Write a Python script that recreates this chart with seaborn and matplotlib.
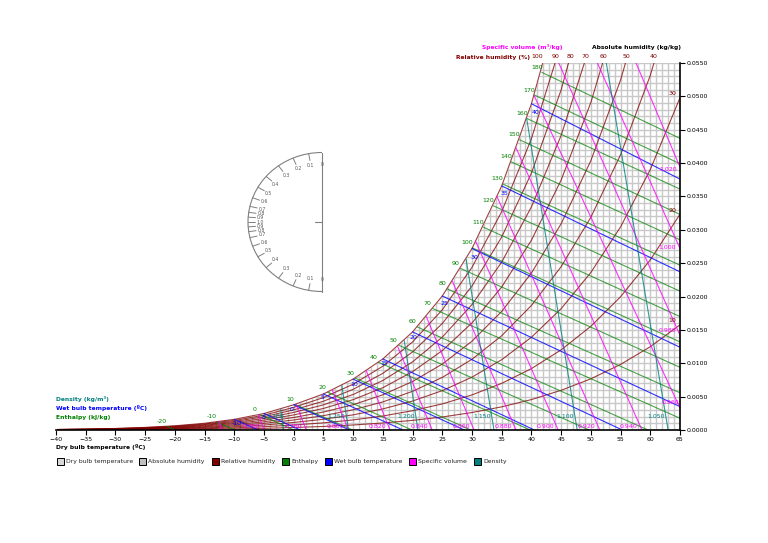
import matplotlib
matplotlib.use("Agg")
import matplotlib.pyplot as plt
from matplotlib.patches import Arc, Rectangle
import numpy as np
import pandas as pd
import seaborn as sns

n = np.nan

# dry bulb nodes for the relative humidity curves
dbt_nodes = [-40, -35, -30, -25, -20, -15, -10, -5, 0, 5, 10, 15, 20, 25, 30, 35, 40, 45, 50, 55, 60, 65]
rh_100 = [.00008, .00014, .00023, .00039, .00063, .00101, .0016, .00247, .00378, .0054, .00763, .01065, .0147, .02008, .0272, .03658, .04889, .06505, n, n, n, n]
rh_90 = [.00007, .00013, .00021, .00035, .00057, .00091, .00144, .00222, .00339, .00486, .00686, .00956, .0132, .01801, .02438, .03273, .04366, .05794, n, n, n, n]
rh_80 = [.00006, .00011, .00018, .00031, .0005, .00081, .00128, .00198, .00302, .00431, .00609, .00849, .0117, .01596, .02158, .02892, .03851, .05097, .0672, n, n, n]
rh_70 = [.00006, .0001, .00016, .00027, .00044, .00071, .00112, .00173, .00264, .00377, .00532, .00742, .01021, .01392, .0188, .02517, .03344, .04415, .05802, n, n, n]
rh_60 = [.00005, .00008, .00014, .00023, .00038, .00061, .00096, .00148, .00226, .00323, .00455, .00634, .00874, .0119, .01605, .02144, .02844, .03746, .04908, .06403, n, n]
rh_50 = [.00004, .00007, .00012, .00019, .00031, .0005, .0008, .00123, .00188, .00269, .00379, .00528, .00727, .00988, .01331, .01777, .02352, .03091, .04037, .05245, .06788, n]
rh_40 = [.00003, .00006, .00009, .00016, .00025, .0004, .00064, .00099, .0015, .00215, .00303, .00421, .0058, .00788, .0106, .01413, .01867, .02448, .03188, .04126, .05314, .06823]
rh_30 = [.00002, .00004, .00007, .00012, .00019, .0003, .00048, .00074, .00113, .00161, .00227, .00316, .00434, .0059, .00792, .01054, .0139, .01818, .02361, .03044, .03903, .0498]
rh_20 = [.00002, .00003, .00005, .00008, .00013, .0002, .00032, .00049, .00075, .00107, .00151, .0021, .00289, .00391, .00526, .00699, .0092, .01201, .01554, .01997, .02549, .03234]
rh_10 = [.00001, .00001, .00002, .00004, .00006, .0001, .00016, .00025, .00038, .00053, .00075, .00105, .00144, .00195, .00262, .00347, .00456, .00595, .00767, .00983, .01248, .01576]
rh_curves = [rh_100, rh_90, rh_80, rh_70, rh_60, rh_50, rh_40, rh_30, rh_20, rh_10]

rh_top_labels = ["100", "90", "80", "70", "60", "50", "40"]
rh_top_t = [41, 44.1, 46.5, 49, 52.2, 56, 60.6]
rh_side_labels = ["30", "20", "10"]
rh_side_w = [.0498, .03234, .01576]

enthalpy = [-20, -10, 0, 10, 20, 30, 40, 50, 60, 70, 80, 90, 100, 110, 120, 130, 140, 150, 160, 170, 180]
enthalpy_t0 = [-21.3, -13, -5.7, .2, 5.7, 10.35, 14.25, 17.7, 20.8, 23.4, 25.8, 28.1, 30.05, 31.9, 33.6, 35.1, 36.55, 38, 39.2, 40.5, 41.75]
enthalpy_w0 = [.00055, .00122, .0023, .00384, .00567, .00778, .01015, .0127, .01545, .0182, .02115, .0242, .0273, .0304, .0336, .0369, .0402, .0435, .0467, .0502, .0536]
enthalpy_t1 = [-19.9, -9.9, 0, 9.9, 19.9, 29.8, 39.8, 49.7, 59.6, 65, 65, 65, 65, 65, 65, 65, 65, 65, 65, 65, 65]
enthalpy_w1 = [0, 0, 0, 0, 0, 0, 0, 0, 0, .00176, .00557, .00939, .0132, .017, .0208, .0247, .0285, .0323, .0361, .0399, .0437]

wet_bulb = [-10, -5, 0, 5, 10, 15, 20, 25, 30, 35, 40]
wet_bulb_w0 = [.0016, .00247, .00378, .0054, .00763, .01065, .0147, .02008, .0272, .03658, .04889]
wet_bulb_t1 = [-6, 1.1, 9.4, 18.4, 28.7, 40.5, 55.3, 65, 65, 65, 65]
wet_bulb_w1 = [0, 0, 0, 0, 0, 0, 0, .0035, .0124, .0237, .0376]

volume = [.74, .76, .78, .80, .82, .84, .86, .88, .90, .92, .94, .96, .98, 1.00, 1.02]
volume_t0 = [-12.6, -5.9, .4, 6.5, 12.2, 17.5, 22.3, 26.7, 30.6, 34.2, 37.4, 40.45, 44.6, 51.1, 57.6]
volume_w0 = [.0013, .00228, .00388, .006, .0089, .0125, .017, .0223, .0283, .035, .0423, .0501, .055, .055, .055]
volume_t1 = [-12, -5, 2.1, 9.2, 16.2, 23.3, 30.35, 37.4, 44.5, 51.5, 58.6, 65, 65, 65, 65]
volume_w1 = [0, 0, 0, 0, 0, 0, 0, 0, 0, 0, 0, .0033, .0142, .0272, .0394]

density = [1.30, 1.25, 1.20, 1.15, 1.10, 1.05]
density_t0 = [-2.2, 8.1, 18.6, 29, 39.2, 52.6]
density_w0 = [.0031, .0067, .0134, .0256, .0467, .055]
density_t1 = [-1.7, 9.2, 20.9, 33.7, 47.7, 63]

shf_labels = ["0", "0.1", "0.2", "0.3", "0.4", "0.5", "0.6", "0.7", "0.8", "0.9", "1.0",
              "0.9", "0.8", "0.7", "0.6", "0.5", "0.4", "0.3", "0.2", "0.1", "0"]
shf_angles = [0, 10.4, 23, 36, 49, 60, 69.6, 77, 82, 86, 90, 94, 98, 103, 110.4, 120, 131, 144, 157, 169.6, 180]

legend_names = ["Dry bulb temperature", "Absolute humidity", "Relative humidity", "Enthalpy",
                "Wet bulb temperature", "Specific volume", "Density"]
legend_colors = ["#d8d8d8", "#c0c0c0", "#800000", "#008000", "#0000ff", "#ff00ff", "#008080"]
legend_x = [57, 139, 212, 282, 325, 409, 474]

RED, GREEN, BLUE, PINK, TEAL = "#800000", "#008000", "#0000ff", "#ff00ff", "#008080"
W, H = 768, 543
FS = 4.4
WB_DX = [2, 0, -2, -1, 1, 1, 1, 2, 2, 3, 4]
WB_DY = [-4, -4, -5, -4, -5, -5, -6, -7, -9, -8, -9]
DENSITY_DX = [-8, -12, -12, -12, -12, -12]


def draw_family(ax, t0, w0, t1, w1, color, alpha=0.8):
    rows = []
    for i in range(len(t0)):
        rows.append((i, t0[i], w0[i]))
        rows.append((i, t1[i], w1[i]))
    df = pd.DataFrame(rows, columns=["id", "t", "w"])
    sns.lineplot(data=df, x="t", y="w", units="id", estimator=None, sort=False, color=color,
                 lw=0.8, alpha=alpha, legend=False, ax=ax)


def px_text(x, y, s, **kw):
    kw.setdefault("fontsize", FS)
    kw.setdefault("va", "center")
    fig.text(x / W, 1 - y / H, s, **kw)


def label(ax, t, w, s, dx, dy, color):
    ax.annotate(s, (t, w), xytext=(dx, dy), textcoords="offset pixels", ha="center", va="center",
                fontsize=4.5, color=color, annotation_clip=False)


sns.set_theme(style="white")
plt.rcParams["font.family"] = ["DejaVu Sans"]
fig = plt.figure(figsize=(W / 100, H / 100), dpi=100)
ax = fig.add_axes([56 / W, 1 - 430 / H, 624 / W, 367 / H])

# grey mesh, then white above the saturation line
ax.set_xlim(-40, 65)
ax.set_ylim(0, 0.055)
ax.set_xticks(np.arange(-40, 66, 5))
ax.set_xticks(np.arange(-39, 66, 1), minor=True)
ax.set_yticks(np.arange(0, 0.0551, 0.005))
ax.set_yticks(np.arange(0, 0.0551, 0.001), minor=True)
ax.grid(which="both", color="#c8c8c8", lw=1.0, zorder=0)
ax.set_axisbelow(True)
ax.get_xgridlines()[0].set_visible(False)

sat = pd.DataFrame({"t": dbt_nodes, "w": rh_100}).dropna()
ax.fill_between(sat["t"], sat["w"], 0.056, color="white", lw=0, zorder=1)

curves = pd.concat([pd.DataFrame({"id": i, "t": dbt_nodes, "w": c}).dropna() for i, c in enumerate(rh_curves)])
sns.lineplot(data=curves, x="t", y="w", units="id", estimator=None, color=RED, lw=0.8, alpha=0.75,
             legend=False, ax=ax)
draw_family(ax, enthalpy_t0, enthalpy_w0, enthalpy_t1, enthalpy_w1, GREEN, alpha=0.7)
draw_family(ax, wet_bulb, wet_bulb_w0, wet_bulb_t1, wet_bulb_w1, BLUE)
draw_family(ax, volume_t0, volume_w0, volume_t1, volume_w1, PINK)
draw_family(ax, density_t0, density_w0, density_t1, [0] * len(density), TEAL)

ax.spines["top"].set_visible(False)
# white left spine hides the mesh ends at the edge of the fill
ax.spines["left"].set_color("white")
ax.spines["left"].set_linewidth(1.5)
ax.spines["bottom"].set_color("black")
ax.spines["bottom"].set_linewidth(1.2)
ax.spines["right"].set_color("black")
ax.spines["right"].set_linewidth(1.2)
ax.yaxis.tick_right()
ax.tick_params(axis="both", which="major", length=3.5, width=0.8, color="black", labelsize=4.5,
               labelcolor="black", pad=1.5, bottom=True, right=True)
ax.tick_params(axis="both", which="minor", length=0)
ax.set_yticklabels([f"{v:.4f}" for v in ax.get_yticks()])
ax.set_xlabel("")
ax.set_ylabel("")

# line labels
for h, t, w in zip(enthalpy, enthalpy_t0, enthalpy_w0):
    label(ax, t, w, str(h), -5, 5, GREEN)
for tw, w, dx, dy in zip(wet_bulb, wet_bulb_w0, WB_DX, WB_DY):
    label(ax, tw, w, str(tw), dx, dy, BLUE)
for v, t, w in zip(volume[1:11], volume_t1[1:11], volume_w1[1:11]):
    label(ax, t, w, f"{v:.3f}", -13, 4, PINK)
label(ax, volume_t1[11], volume_w1[11], "0.960", -10, 5, PINK)
label(ax, volume_t1[12], volume_w1[12], "0.980", -13, 5, PINK)
label(ax, volume_t1[13], volume_w1[13], "1.000", -13, 1, PINK)
label(ax, volume_t1[14], volume_w1[14], "1.020", -12, -2, PINK)
for d, t, dx in zip(density, density_t1, DENSITY_DX):
    label(ax, t, 0, f"{d:.3f}", dx, 14, TEAL)
for s, t in zip(rh_top_labels, rh_top_t):
    label(ax, t, 0.055, s, 0, 6, RED)
for s, w in zip(rh_side_labels, rh_side_w):
    label(ax, 65, w, s, -8, 4, RED)

# headers
px_text(482, 47, "Specific volume (m³/kg)", color=PINK, fontweight="bold", fontsize=4.35)
px_text(592, 47, "Absolute humidity (kg/kg)", color="black", fontweight="bold", fontsize=4.35)
px_text(456, 57, "Relative humidity (%)", color=RED, fontweight="bold", fontsize=4.35)
px_text(56, 399, "Density (kg/m³)", color=TEAL, fontweight="bold", fontsize=4.35)
px_text(56, 408, "Wet bulb temperature (ºC)", color=BLUE, fontweight="bold", fontsize=4.35)
px_text(56, 417, "Enthalpy (kJ/kg)", color=GREEN, fontweight="bold", fontsize=4.35)
px_text(56, 447, "Dry bulb temperature (ºC)", color="black", fontweight="bold", fontsize=4.35)

# legend row
for name, c, x in zip(legend_names, legend_colors, legend_x):
    fig.add_artist(Rectangle((x / W, 1 - 465 / H), 7 / W, 7 / H, transform=fig.transFigure,
                             facecolor=c, edgecolor="black", lw=0.7))
    px_text(x + 9, 461, name, color="#222222")

# sensible heat factor protractor
pa = fig.add_axes([240 / W, 1 - 300 / H, 95 / W, 155 / H])
pa.set_xlim(-82, 13)
pa.set_ylim(-78, 77)
pa.axis("off")
pa.patch.set_alpha(0)
GREY = "#808080"
RX, RY = 74, 69.5
pa.add_patch(Arc((0, 0), 2 * RX, 2 * RY, theta1=90, theta2=270, color=GREY, lw=0.8))
pa.plot([0, 0], [-RY, RY], color=GREY, lw=0.8)
pa.plot([-7, 0], [0, 0], color=GREY, lw=0.8)
for s, a in zip(shf_labels, shf_angles):
    sx, sy = -RX * np.sin(np.radians(a)), RY * np.cos(np.radians(a))
    pa.plot([sx, sx * 0.9], [sy, sy * 0.9], color=GREY, lw=0.7)
    pa.text(sx * 0.83, sy * 0.83, s, ha="center", va="center", fontsize=3.3, color="#555555")

fig.savefig("out.png", dpi=100)
